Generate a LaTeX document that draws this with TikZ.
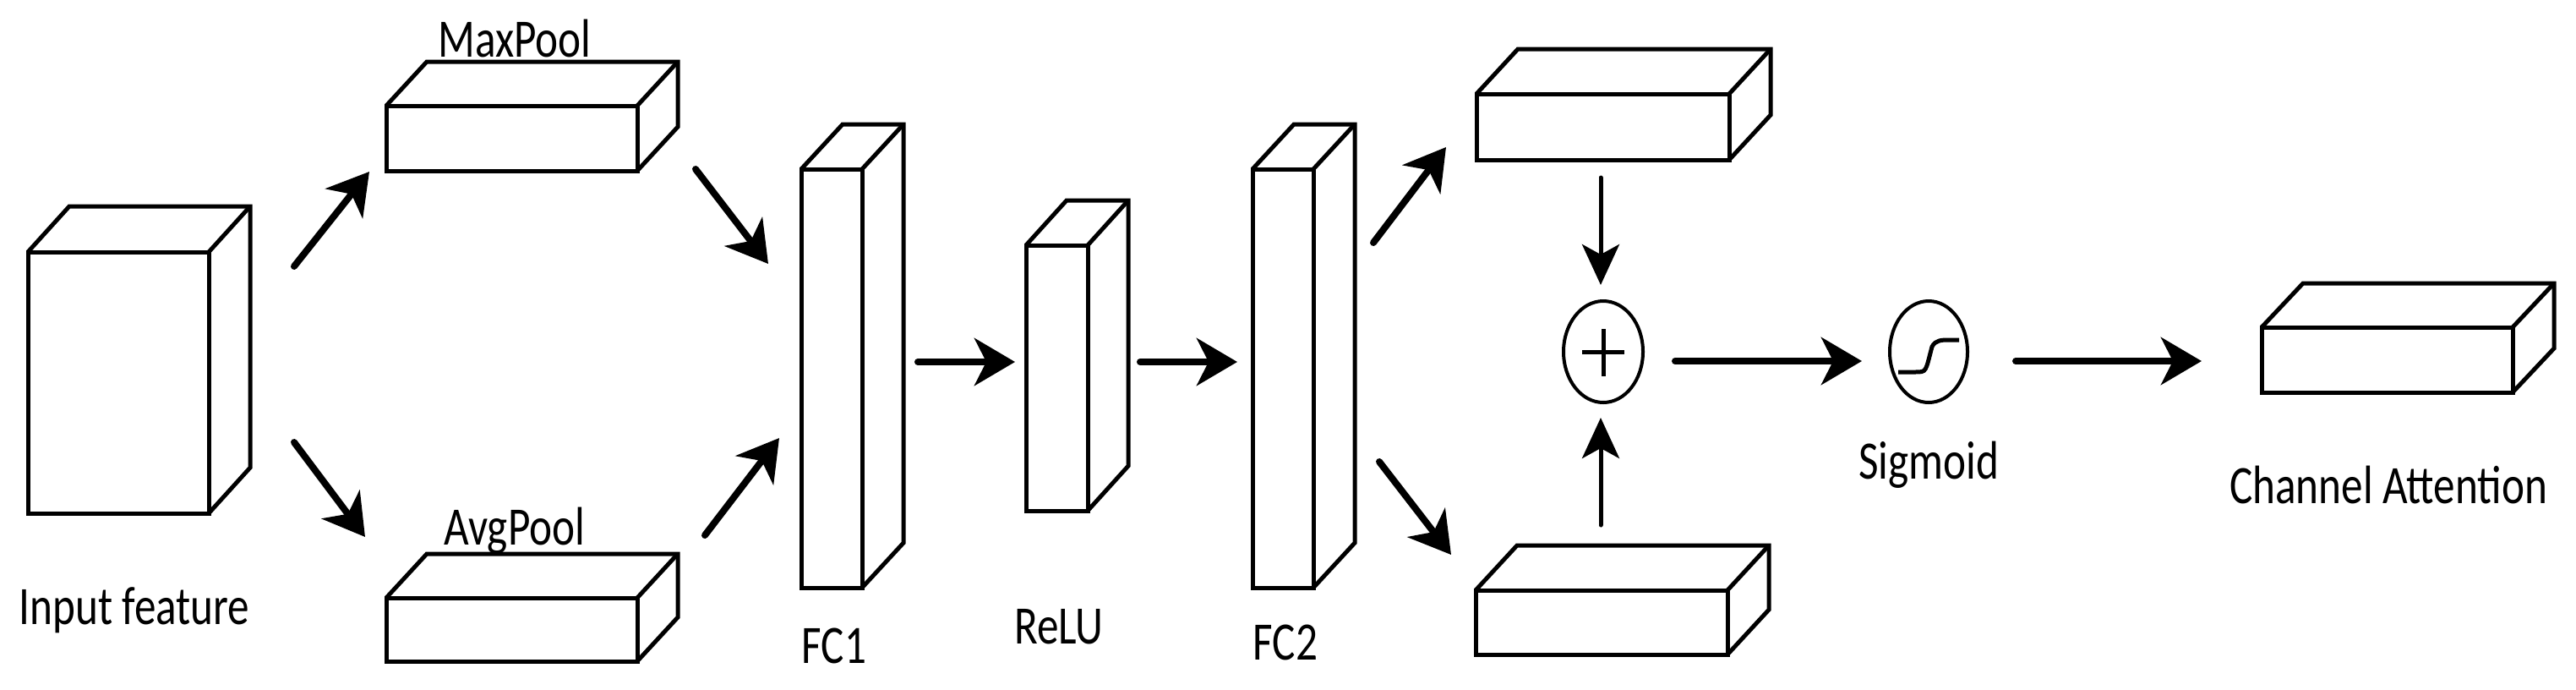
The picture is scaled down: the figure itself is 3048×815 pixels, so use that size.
\documentclass[tikz,border=0pt]{standalone}
\usepackage{fontspec}
\setmainfont{Carlito}[FakeStretch=0.8]
\usetikzlibrary{arrows.meta,calc,shapes.geometric}
\newcommand\mycube[7]{%
  \node[face,minimum width={#4-#2},minimum height={#5-#3}] (#1) at ({(#2+#4)/2},{(#3+#5)/2}) {};
  \draw[edge] (#1.north west) -- ++(#6,#7) -- ($(#1.north east)+(#6,#7)$) -- ($(#1.south east)+(#6,#7)$) -- (#1.south east);
  \draw[edge] (#1.north east) -- ++(#6,#7);
}
\begin{document}
\begin{tikzpicture}[x=1pt,y=-1pt,
  face/.style={draw,line width=5pt,inner sep=0pt,outer sep=0pt},
  edge/.style={line width=5pt,line join=miter},
  arr/.style={line width=8pt,line cap=round,-{Stealth[length=48pt,width=56pt,inset=14pt]}},
  lab/.style={font=\fontsize{64pt}{64pt}\selectfont,inner sep=0pt}]
\useasboundingbox (0,0) rectangle (3048,815);
\mycube{in}{33}{298}{247}{607}{49}{-54}
\mycube{max}{457}{125}{754}{202}{48}{-52}
\mycube{avg}{457}{707}{754}{782}{48}{-52}
\mycube{fc1}{948}{200}{1020}{695}{49}{-53}
\mycube{relu}{1214}{290}{1287}{604}{48}{-53}
\mycube{fc2}{1482}{200}{1554}{695}{49}{-53}
\mycube{up}{1747}{111}{2046}{189}{49}{-53}
\mycube{lo}{1746}{698}{2044}{774}{49}{-53}
\mycube{ca}{2676}{387}{2973}{464}{49}{-52}
\node[lab] (tin) at (159,722) {Input feature};
\node[lab] (tmax) at (609,46) {MaxPool};
\node[lab] (tavg) at (609,628) {AvgPool};
\node[lab] (tfc1) at (987,764) {FC1};
\node[lab] (trelu) at (1253,741) {ReLU};
\node[lab] (tfc2) at (1521,760) {FC2};
\node[lab] (tsig) at (2282,550) {Sigmoid};
\node[lab] (tca) at (2826,574) {Channel Attention};
\node[draw,ellipse,line width=4pt,minimum width=94pt,minimum height=120pt,inner sep=0pt] (plus) at (1897,416) {};
\draw[line width=5pt] (1872,416) -- (1922,416) (1897,389) -- (1897,445);
\node[draw,ellipse,line width=4pt,minimum width=92pt,minimum height=120pt,inner sep=0pt] (sig) at (2282,416) {};
\draw[line width=5pt] ($(sig)+(-36,24)$) -- ++(20,0) .. controls ++(14,0) and ++(-8,30) .. ++(20,-30) .. controls ++(4,-8) and ++(-8,0) .. ++(20,-8) -- ++(12,0);
\coordinate (a1s) at (348,315); \coordinate (a1e) at (437,203);
\coordinate (a2s) at (348,523); \coordinate (a2e) at (432,635);
\coordinate (a3s) at (823,200); \coordinate (a3e) at (909,312);
\coordinate (a4s) at (834,633); \coordinate (a4e) at (922,518);
\coordinate (a5s) at (1086,428); \coordinate (a5e) at (1201,428);
\coordinate (a6s) at (1349,428); \coordinate (a6e) at (1464,428);
\coordinate (a7s) at (1625,287); \coordinate (a7e) at (1711,174);
\coordinate (a8s) at (1632,546); \coordinate (a8e) at (1717,656);
\coordinate (a9s) at (1894,210); \coordinate (a9e) at (1894,337);
\coordinate (a10s) at (1894,621); \coordinate (a10e) at (1894,494);
\coordinate (a11s) at (1982,427); \coordinate (a11e) at (2203,427);
\coordinate (a12s) at (2385,427); \coordinate (a12e) at (2605,427);
\foreach \i in {1,...,8,11,12} \draw[arr] (a\i s) -- (a\i e);
\foreach \i in {9,10} \draw[arr,line width=5pt,-{Stealth[length=48pt,width=44pt,inset=12pt]}] (a\i s) -- (a\i e);
\end{tikzpicture}
\end{document}
